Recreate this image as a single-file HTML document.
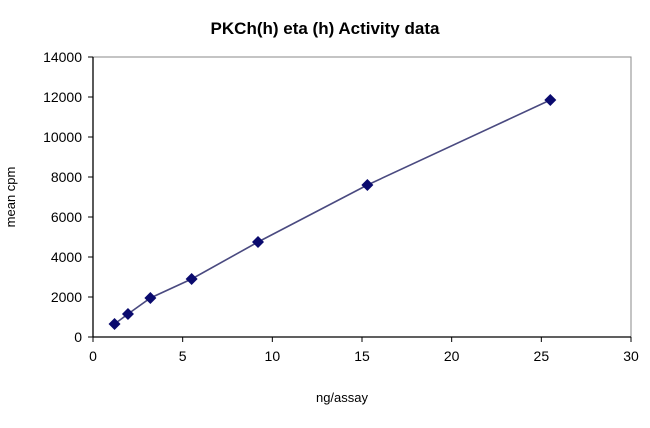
<!DOCTYPE html>
<html><head><meta charset="utf-8"><style>
html,body{margin:0;padding:0;background:#fff;}
svg{display:block;font-family:"Liberation Sans",Arial,sans-serif;}
</style></head><body>
<svg id="chart" width="650" height="428" viewBox="0 0 650 428">
<text x="325" y="34" text-anchor="middle" font-size="17" font-weight="bold" fill="#000">PKCh(h) eta (h) Activity data</text>
<rect x="93" y="57" width="538" height="280" fill="none" stroke="#888" stroke-width="1"/>
<g id="axes"></g>
<g id="series"></g>
<text x="342" y="402" text-anchor="middle" font-size="13" fill="#000">ng/assay</text>
<text transform="translate(15,197) rotate(-90)" text-anchor="middle" font-size="13" fill="#000">mean cpm</text>
</svg>
<script>
const xValues = [1.2, 1.95, 3.2, 5.5, 9.2, 15.3, 25.5];
const yValues = [650, 1150, 1950, 2900, 4750, 7600, 11850];
const xTicks = [0, 5, 10, 15, 20, 25, 30];
const yTicks = [0, 2000, 4000, 6000, 8000, 10000, 12000, 14000];
const NS = "http://www.w3.org/2000/svg";
const X0 = 93, X1 = 631, Y0 = 337, Y1 = 57;
function sx(v){ return X0 + (v - 0) / 30 * (X1 - X0); }
function sy(v){ return Y0 - (v - 0) / 14000 * (Y0 - Y1); }
function mk(tag, attrs, parent){
  const e = document.createElementNS(NS, tag);
  for (const k in attrs) e.setAttribute(k, attrs[k]);
  parent.appendChild(e);
  return e;
}
const axes = document.getElementById("axes");
const xa = mk("line", {x1:X0, y1:Y0, x2:X1, y2:Y0, stroke:"#000", "stroke-width":1.3}, axes);


const ya = mk("line", {x1:X0, y1:Y0, x2:X0, y2:Y1, stroke:"#000", "stroke-width":1.3}, axes);


xTicks.forEach(t => {
  const x = sx(t);
  const tk = mk("line", {x1:x, y1:Y0, x2:x, y2:Y0+5, stroke:"#000"}, axes);
  
  
  const lb = mk("text", {x:x, y:Y0+24, "text-anchor":"middle", "font-size":14}, axes);
  lb.textContent = t;
  
  
});
yTicks.forEach(t => {
  const y = sy(t);
  const tk = mk("line", {x1:X0-5, y1:y, x2:X0, y2:y, stroke:"#000"}, axes);
  
  
  const lb = mk("text", {x:X0-11, y:y+5, "text-anchor":"end", "font-size":14}, axes);
  lb.textContent = t;
  
  
});
const ser = document.getElementById("series");
const pts = xValues.map((v,i) => sx(v) + "," + sy(yValues[i])).join(" ");
const pl = mk("polyline", {points:pts, fill:"none", stroke:"#4a4a80", "stroke-width":1.6}, ser);


xValues.forEach((v,i) => {
  const x = sx(v), y = sy(yValues[i]), r = 6;
  const m = mk("polygon", {points:`${x},${y-r} ${x+r},${y} ${x},${y+r} ${x-r},${y}`, fill:"#0a0a6e"}, ser);
  
  
});
</script>
</body></html>
